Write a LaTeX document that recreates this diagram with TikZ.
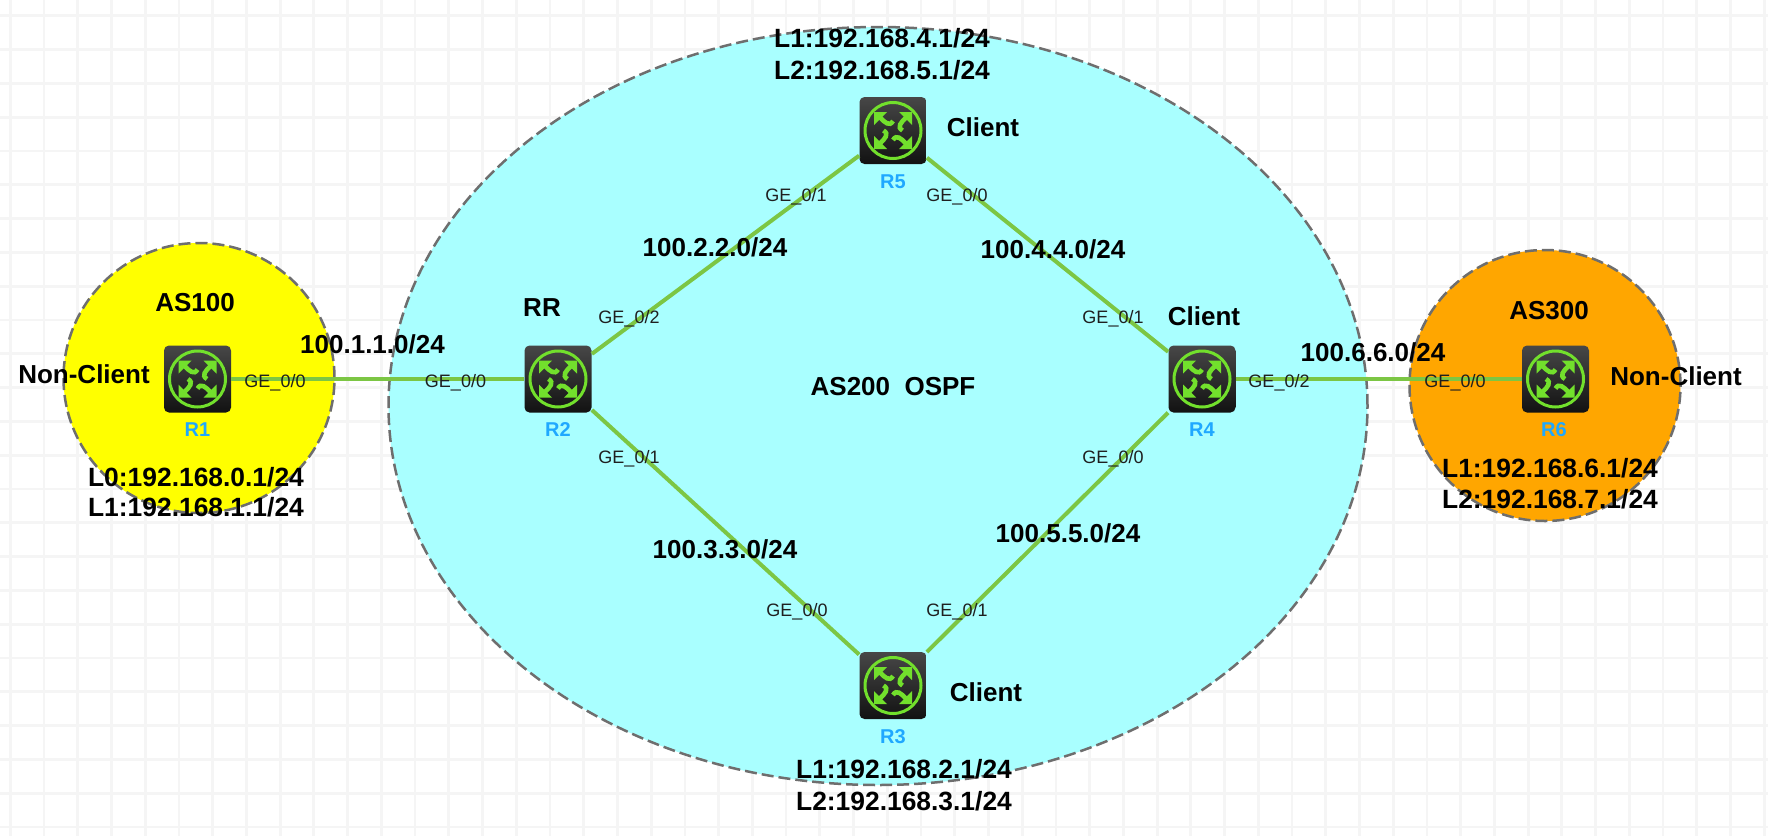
\documentclass[tikz,border=0pt]{standalone}
\usepackage{fontspec}
\setmainfont{Liberation Sans}
\usetikzlibrary{shapes.geometric}
\definecolor{gridc}{HTML}{F5F5F5}
\definecolor{linkc}{HTML}{7CC644}
\definecolor{iconc}{HTML}{72E02C}
\definecolor{zonec}{HTML}{6E6E6E}
\definecolor{yellowz}{HTML}{FFFF00}
\definecolor{cyanz}{HTML}{A9FFFF}
\definecolor{orangez}{HTML}{FFA600}
\definecolor{namec}{HTML}{1FA8FF}
\newcommand{\routerglyph}[2]{%
  \begin{scope}[shift={(#1,#2)}]
  \draw[iconc,line width=1.5pt] (0,0) circle (28);
  \fill[iconc] (-19,-18.5) -- (-6,-18.5) -- (-19,-5.5) -- cycle;
  \fill[iconc] (19,-18.5) -- (6,-18.5) -- (19,-5.5) -- cycle;
  \fill[iconc] (19,18.5) -- (6,18.5) -- (19,5.5) -- cycle;
  \fill[iconc] (-19,18.5) -- (-6,18.5) -- (-19,5.5) -- cycle;
  \draw[iconc,line width=2.3pt] (-13,-13) .. controls (-8,-8) and (-3.5,-3.5) .. (0,-9.5);
  \draw[iconc,line width=2.3pt] (13,-13) .. controls (8,-8) and (3.5,-3.5) .. (9.5,0);
  \draw[iconc,line width=2.3pt] (13,13) .. controls (8,8) and (3.5,3.5) .. (0,9.5);
  \draw[iconc,line width=2.3pt] (-13,13) .. controls (-8,8) and (-3.5,3.5) .. (-9.5,0);
  \end{scope}%
}
\tikzset{
  x=.5pt,y=-.5pt,
  zone/.style={ellipse,draw=zonec,line width=1.25pt,dash pattern=on 6pt off 2.5pt,inner sep=0pt},
  router/.style={rectangle,rounded corners=2.5pt,minimum size=33.5pt,inner sep=0pt,
    top color=black!72,bottom color=black!93},
  link/.style={linkc,line width=2pt},
  title/.style={font=\fontsize{13pt}{15pt}\bfseries\selectfont,inner sep=0pt,align=center},
  addr/.style={font=\fontsize{13.2pt}{15pt}\bfseries\selectfont,inner sep=0pt,align=center},
  port/.style={font=\fontsize{9pt}{11pt}\selectfont,inner sep=0pt,text=black!88},
  rname/.style={font=\fontsize{10pt}{12pt}\bfseries\selectfont,inner sep=0pt,text=namec},
}
\begin{document}
\begin{tikzpicture}
\useasboundingbox (0,0) rectangle (1768,836);
\fill[white] (0,0) rectangle (1768,836);
\foreach \i in {0,...,52}{\draw[gridc,line width=1.4pt] ({10.3+33.73*\i},0) -- ({10.3+33.73*\i},836);}
\foreach \i in {0,...,24}{\draw[gridc,line width=1.4pt] (0,{15.7+33.8*\i}) -- (1768,{15.7+33.8*\i});}

\node[zone,fill=yellowz,minimum width=135.5pt,minimum height=135pt] (as100) at (199,378) {};
\node[zone,fill=cyanz,minimum width=489.5pt,minimum height=379pt] (as200) at (878,406) {};
\node[zone,fill=orangez,minimum width=135.5pt,minimum height=135.5pt] (as300) at (1545,385.5) {};

\node[router] (R1) at (197.5,379) {};
\node[router] (R2) at (558,379) {};
\node[router] (R3) at (893,685.5) {};
\node[router] (R4) at (1202,379) {};
\node[router] (R5) at (893,130.5) {};
\node[router] (R6) at (1555.5,379) {};

\draw[link] (R1) -- (R2);
\draw[link] (R2) -- (R5);
\draw[link] (R5) -- (R4);
\draw[link] (R2) -- (R3);
\draw[link] (R3) -- (R4);
\draw[link] (R4) -- (R6);

\routerglyph{197.5}{379}
\routerglyph{558}{379}
\routerglyph{893}{685.5}
\routerglyph{1202}{379}
\routerglyph{893}{130.5}
\routerglyph{1555.5}{379}

\node[rname] (n1) at (197.5,430) {R1};
\node[rname] (n2) at (558,430) {R2};
\node[rname] (n3) at (893,737) {R3};
\node[rname] (n4) at (1202,430) {R4};
\node[rname] (n5) at (893,182) {R5};
\node[rname] (n6) at (1554,430) {R6};

\node[port] (p1) at (275,383) {GE\_0/0};
\node[port] (p2a) at (455.5,383) {GE\_0/0};
\node[port] (p2b) at (629,319) {GE\_0/2};
\node[port] (p2c) at (629,459) {GE\_0/1};
\node[port] (p5a) at (796,197) {GE\_0/1};
\node[port] (p5b) at (957,197) {GE\_0/0};
\node[port] (p3a) at (797,612) {GE\_0/0};
\node[port] (p3b) at (957,612) {GE\_0/1};
\node[port] (p4a) at (1113,319) {GE\_0/1};
\node[port] (p4b) at (1113,459) {GE\_0/0};
\node[port] (p4c) at (1279,383) {GE\_0/2};
\node[port] (p6) at (1455,383) {GE\_0/0};

\node[title] (tas100) at (195,303) {AS100};
\node[title] (tas300) at (1549,311) {AS300};
\node[title] (tas200) at (893,387) {AS200\ \ OSPF};
\node[title] (tnc1) at (84,374) {Non-Client};
\node[title] (tnc6) at (1676,376) {Non-Client};
\node[title] (trr) at (542,308) {RR};
\node[title] (tc5) at (983,127) {Client};
\node[title] (tc3) at (986,692) {Client};
\node[title] (tc4) at (1204,316) {Client};

\node[title] (s1) at (372.5,344) {100.1.1.0/24};
\node[title] (s2) at (715,247) {100.2.2.0/24};
\node[title] (s3) at (725,549) {100.3.3.0/24};
\node[title] (s4) at (1053,249) {100.4.4.0/24};
\node[title] (s5) at (1068,533) {100.5.5.0/24};
\node[title] (s6) at (1373,352) {100.6.6.0/24};

\node[addr] (l1a) at (196,477) {L0:192.168.0.1/24};
\node[addr] (l1b) at (196,507) {L1:192.168.1.1/24};
\node[addr] (l6a) at (1550,468) {L1:192.168.6.1/24};
\node[addr] (l6b) at (1550,499) {L2:192.168.7.1/24};
\node[addr] (l5a) at (882,38) {L1:192.168.4.1/24};
\node[addr] (l5b) at (882,70) {L2:192.168.5.1/24};
\node[addr] (l3a) at (904,769) {L1:192.168.2.1/24};
\node[addr] (l3b) at (904,801) {L2:192.168.3.1/24};
\end{tikzpicture}
\end{document}
